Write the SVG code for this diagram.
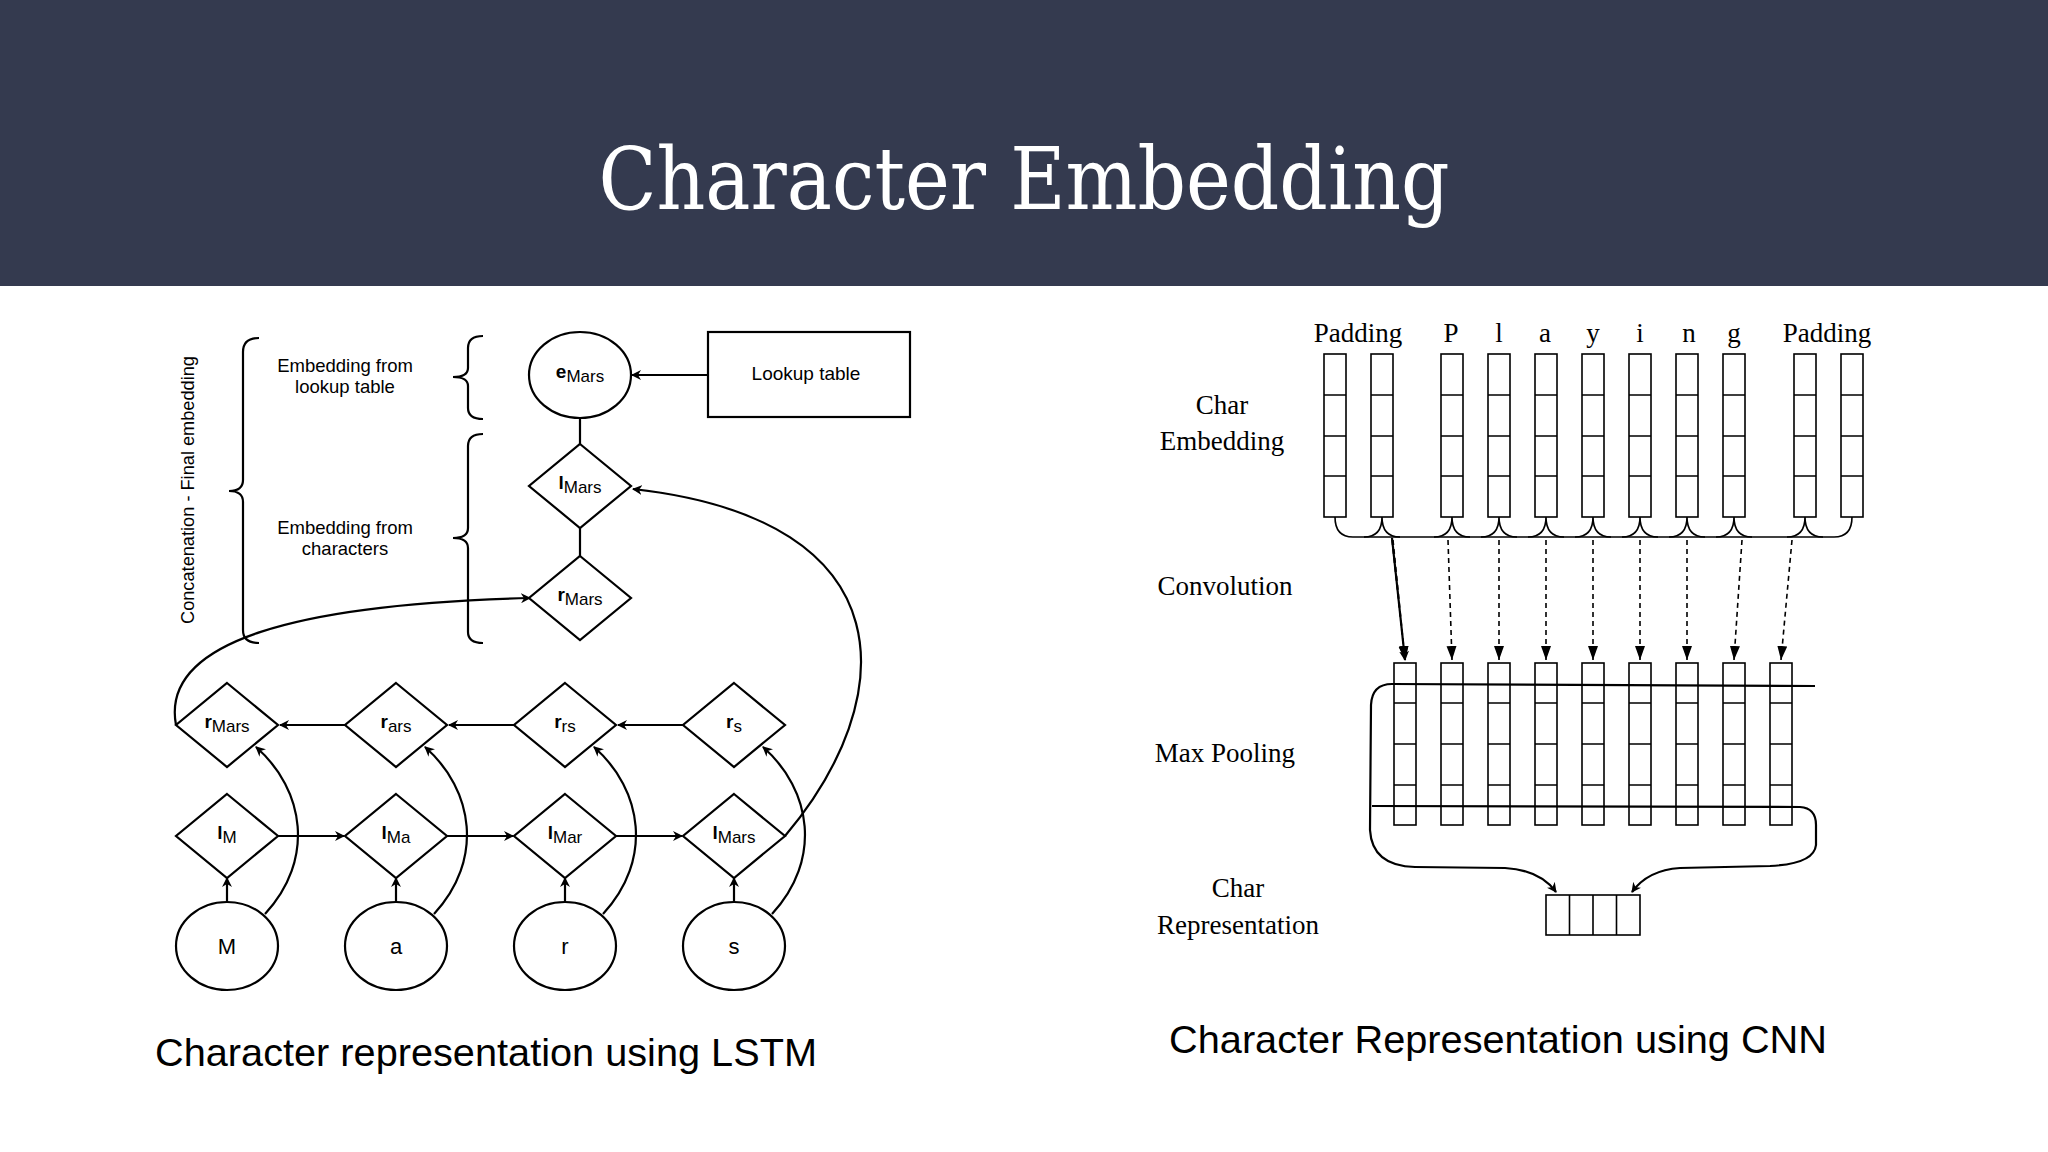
<svg xmlns="http://www.w3.org/2000/svg" width="2048" height="1152" viewBox="0 0 2048 1152">
<style>
.s{fill:none;stroke:#000;stroke-width:2.2}
.w{fill:#fff;stroke:#000;stroke-width:2.2}
.a{fill:none;stroke:#000;stroke-width:2.2;marker-end:url(#ah)}
.d{fill:none;stroke:#000;stroke-width:1.6;stroke-dasharray:5 4;marker-end:url(#ah2)}
.t{font-family:"Liberation Sans",Arial,sans-serif;fill:#000}
.n{font-family:"Liberation Sans",Arial,sans-serif;font-size:17px;text-anchor:middle}
.n .b{font-weight:bold;font-size:19px}
.r{font-family:"Liberation Serif","Times New Roman",serif;font-size:27px;fill:#000;text-anchor:middle}
.c{fill:none;stroke:#000;stroke-width:1.6}
</style>
<defs>
<marker id="ah" markerWidth="10" markerHeight="10" refX="9" refY="5" orient="auto" markerUnits="userSpaceOnUse" viewBox="0 0 10 10"><path d="M0,0 L10,5 L0,10 L3,5 z" fill="#000"/></marker>
<marker id="ah2" markerWidth="14" markerHeight="18" refX="14" refY="7" orient="auto" markerUnits="userSpaceOnUse" viewBox="0 0 14 14"><path d="M0,2 L14,7 L0,12 z" fill="#000"/></marker>
</defs>
<rect width="2048" height="1152" fill="#fff"/>
<rect width="2048" height="286" fill="#343a4f"/>
<text x="1024" y="209" font-family="'DejaVu Serif',serif" font-size="86" fill="#fff" text-anchor="middle" textLength="851" lengthAdjust="spacingAndGlyphs">Character Embedding</text>

<g id="connectors">
<path class="a" d="M708,375 L632,375"/>
<path class="s" d="M580,418 L580,444 M580,528 L580,556"/>
<path class="a" d="M683,725 L618,725"/>
<path class="a" d="M514,725 L449,725"/>
<path class="a" d="M345,725 L280,725"/>
<path class="a" d="M278,836 L344,836"/>
<path class="a" d="M447,836 L513,836"/>
<path class="a" d="M616,836 L682,836"/>
<path class="a" d="M227,902 L227,878"/>
<path class="a" d="M396,902 L396,878"/>
<path class="a" d="M565,902 L565,878"/>
<path class="a" d="M734,902 L734,878"/>
<path class="a" d="M265,914 C315,860 305,790 256,747"/>
<path class="a" d="M434,914 C484,860 474,790 425,747"/>
<path class="a" d="M603,914 C653,860 643,790 594,747"/>
<path class="a" d="M772,914 C822,860 812,790 763,747"/>
<path class="a" d="M785,836 C900,700 910,520 633,489"/>
<path class="a" d="M176,725 C160,640 300,604 530,598"/>
<path class="a" d="M1392,538 L1405,660"/>
<path class="d" d="M1392,540 L1405,660"/>
</g>

<g id="braces">
<path class="s" d="M259,338 Q243,338 243,352 L243,480 Q243,491 229,491 Q243,491 243,502 L243,630 Q243,643 259,643"/>
<path class="s" d="M483,336 Q468,336 468,348 L468,368 Q468,377 453,377 Q468,377 468,386 L468,408 Q468,419 483,419"/>
<path class="s" d="M483,434 Q468,434 468,446 L468,528 Q468,538 453,538 Q468,538 468,548 L468,632 Q468,643 483,643"/>
<text class="t" x="345" y="372" font-size="18.5" text-anchor="middle">Embedding from</text>
<text class="t" x="345" y="393" font-size="18.5" text-anchor="middle">lookup table</text>
<text class="t" x="345" y="534" font-size="18.5" text-anchor="middle">Embedding from</text>
<text class="t" x="345" y="555" font-size="18.5" text-anchor="middle">characters</text>
<text class="t" transform="translate(194,490) rotate(-90)" font-size="17.5" text-anchor="middle" textLength="268" lengthAdjust="spacingAndGlyphs">Concatenation - Final embedding</text>
</g>

<g id="lookup"><rect class="w" x="708" y="332" width="202" height="85"/><text class="t" x="806" y="380" font-size="19" text-anchor="middle">Lookup table</text></g>
<g id="eMars"><ellipse class="w" cx="580" cy="375" rx="51" ry="43"/><text class="n" x="580" y="378"><tspan class="b">e</tspan><tspan dy="4">Mars</tspan></text></g>
<g id="lMarsTop"><path class="w" d="M580,444 L631,486 L580,528 L529,486 z"/><text class="n" x="580" y="489"><tspan class="b">l</tspan><tspan dy="4">Mars</tspan></text></g>
<g id="rMarsTop"><path class="w" d="M580,556 L631,598 L580,640 L529,598 z"/><text class="n" x="580" y="601"><tspan class="b">r</tspan><tspan dy="4">Mars</tspan></text></g>

<g id="r1"><path class="w" d="M227,683 L278,725 L227,767 L176,725 z"/><text class="n" x="227" y="728"><tspan class="b">r</tspan><tspan dy="4">Mars</tspan></text></g>
<g id="r2"><path class="w" d="M396,683 L447,725 L396,767 L345,725 z"/><text class="n" x="396" y="728"><tspan class="b">r</tspan><tspan dy="4">ars</tspan></text></g>
<g id="r3"><path class="w" d="M565,683 L616,725 L565,767 L514,725 z"/><text class="n" x="565" y="728"><tspan class="b">r</tspan><tspan dy="4">rs</tspan></text></g>
<g id="r4"><path class="w" d="M734,683 L785,725 L734,767 L683,725 z"/><text class="n" x="734" y="728"><tspan class="b">r</tspan><tspan dy="4">s</tspan></text></g>
<g id="l1"><path class="w" d="M227,794 L278,836 L227,878 L176,836 z"/><text class="n" x="227" y="839"><tspan class="b">l</tspan><tspan dy="4">M</tspan></text></g>
<g id="l2"><path class="w" d="M396,794 L447,836 L396,878 L345,836 z"/><text class="n" x="396" y="839"><tspan class="b">l</tspan><tspan dy="4">Ma</tspan></text></g>
<g id="l3"><path class="w" d="M565,794 L616,836 L565,878 L514,836 z"/><text class="n" x="565" y="839"><tspan class="b">l</tspan><tspan dy="4">Mar</tspan></text></g>
<g id="l4"><path class="w" d="M734,794 L785,836 L734,878 L683,836 z"/><text class="n" x="734" y="839"><tspan class="b">l</tspan><tspan dy="4">Mars</tspan></text></g>
<g id="cM"><ellipse class="w" cx="227" cy="946" rx="51" ry="44"/><text class="t" x="227" y="954" font-size="22" text-anchor="middle">M</text></g>
<g id="ca"><ellipse class="w" cx="396" cy="946" rx="51" ry="44"/><text class="t" x="396" y="954" font-size="22" text-anchor="middle">a</text></g>
<g id="cr"><ellipse class="w" cx="565" cy="946" rx="51" ry="44"/><text class="t" x="565" y="954" font-size="22" text-anchor="middle">r</text></g>
<g id="cs"><ellipse class="w" cx="734" cy="946" rx="51" ry="44"/><text class="t" x="734" y="954" font-size="22" text-anchor="middle">s</text></g>
<text class="t" x="486" y="1066" font-size="39" text-anchor="middle" textLength="662" lengthAdjust="spacingAndGlyphs">Character representation using LSTM</text>

<!-- CNN -->
<g id="cnnLabels">
<text class="r" x="1358" y="342">Padding</text><text class="r" x="1451" y="342">P</text><text class="r" x="1499" y="342">l</text><text class="r" x="1545" y="342">a</text><text class="r" x="1593" y="342">y</text><text class="r" x="1640" y="342">i</text><text class="r" x="1689" y="342">n</text><text class="r" x="1734" y="342">g</text><text class="r" x="1827" y="342">Padding</text>
<text class="r" x="1222" y="414">Char</text><text class="r" x="1222" y="450">Embedding</text>
<text class="r" x="1225" y="595">Convolution</text>
<text class="r" x="1225" y="762">Max Pooling</text>
<text class="r" x="1238" y="897">Char</text><text class="r" x="1238" y="934">Representation</text>
</g>
<g id="embCols" fill="#fff" stroke="#000" stroke-width="1.6">
<g id="col1"><rect x="1324" y="354" width="22" height="163"/><path d="M1324,395 h22 M1324,436 h22 M1324,476 h22"/></g>
<g id="col2"><rect x="1371" y="354" width="22" height="163"/><path d="M1371,395 h22 M1371,436 h22 M1371,476 h22"/></g>
<g id="col3"><rect x="1441" y="354" width="22" height="163"/><path d="M1441,395 h22 M1441,436 h22 M1441,476 h22"/></g>
<g id="col4"><rect x="1488" y="354" width="22" height="163"/><path d="M1488,395 h22 M1488,436 h22 M1488,476 h22"/></g>
<g id="col5"><rect x="1535" y="354" width="22" height="163"/><path d="M1535,395 h22 M1535,436 h22 M1535,476 h22"/></g>
<g id="col6"><rect x="1582" y="354" width="22" height="163"/><path d="M1582,395 h22 M1582,436 h22 M1582,476 h22"/></g>
<g id="col7"><rect x="1629" y="354" width="22" height="163"/><path d="M1629,395 h22 M1629,436 h22 M1629,476 h22"/></g>
<g id="col8"><rect x="1676" y="354" width="22" height="163"/><path d="M1676,395 h22 M1676,436 h22 M1676,476 h22"/></g>
<g id="col9"><rect x="1723" y="354" width="22" height="163"/><path d="M1723,395 h22 M1723,436 h22 M1723,476 h22"/></g>
<g id="col10"><rect x="1794" y="354" width="22" height="163"/><path d="M1794,395 h22 M1794,436 h22 M1794,476 h22"/></g>
<g id="col11"><rect x="1841" y="354" width="22" height="163"/><path d="M1841,395 h22 M1841,436 h22 M1841,476 h22"/></g>
</g>
<g id="convCurves">
<path class="c" d="M1353,537 L1834,537"/>
<path class="c" d="M1335,517 Q1335,537 1353,537"/>
<path class="c" d="M1382,517 Q1382,537 1364,537 M1382,517 Q1382,537 1400,537"/>
<path class="c" d="M1452,517 Q1452,537 1434,537 M1452,517 Q1452,537 1470,537"/>
<path class="c" d="M1499,517 Q1499,537 1481,537 M1499,517 Q1499,537 1517,537"/>
<path class="c" d="M1546,517 Q1546,537 1528,537 M1546,517 Q1546,537 1564,537"/>
<path class="c" d="M1593,517 Q1593,537 1575,537 M1593,517 Q1593,537 1611,537"/>
<path class="c" d="M1640,517 Q1640,537 1622,537 M1640,517 Q1640,537 1658,537"/>
<path class="c" d="M1687,517 Q1687,537 1669,537 M1687,517 Q1687,537 1705,537"/>
<path class="c" d="M1734,517 Q1734,537 1716,537 M1734,517 Q1734,537 1752,537"/>
<path class="c" d="M1805,517 Q1805,537 1787,537 M1805,517 Q1805,537 1823,537"/>
<path class="c" d="M1852,517 Q1852,537 1834,537"/>
</g>
<g id="convArrows">
<path class="d" d="M1393,540 L1405,660"/>
<path class="d" d="M1448,540 L1452,660"/>
<path class="d" d="M1499,540 L1499,660"/>
<path class="d" d="M1546,540 L1546,660"/>
<path class="d" d="M1593,540 L1593,660"/>
<path class="d" d="M1640,540 L1640,660"/>
<path class="d" d="M1687,540 L1687,660"/>
<path class="d" d="M1742,540 L1734,660"/>
<path class="d" d="M1792,540 L1781,660"/>
</g>
<g id="poolCols" fill="#fff" stroke="#000" stroke-width="1.6">
<g><rect x="1394" y="663" width="22" height="162"/><path d="M1394,703 h22 M1394,744 h22 M1394,785 h22"/></g>
<g><rect x="1441" y="663" width="22" height="162"/><path d="M1441,703 h22 M1441,744 h22 M1441,785 h22"/></g>
<g><rect x="1488" y="663" width="22" height="162"/><path d="M1488,703 h22 M1488,744 h22 M1488,785 h22"/></g>
<g><rect x="1535" y="663" width="22" height="162"/><path d="M1535,703 h22 M1535,744 h22 M1535,785 h22"/></g>
<g><rect x="1582" y="663" width="22" height="162"/><path d="M1582,703 h22 M1582,744 h22 M1582,785 h22"/></g>
<g><rect x="1629" y="663" width="22" height="162"/><path d="M1629,703 h22 M1629,744 h22 M1629,785 h22"/></g>
<g><rect x="1676" y="663" width="22" height="162"/><path d="M1676,703 h22 M1676,744 h22 M1676,785 h22"/></g>
<g><rect x="1723" y="663" width="22" height="162"/><path d="M1723,703 h22 M1723,744 h22 M1723,785 h22"/></g>
<g><rect x="1770" y="663" width="22" height="162"/><path d="M1770,703 h22 M1770,744 h22 M1770,785 h22"/></g>
</g>
<g id="poolLines">
<path class="a" d="M1815,686 L1392,684 Q1372,684 1371,705 L1370,830 Q1372,866 1415,867 L1505,868 Q1540,870 1556,892"/>
<path class="a" d="M1372,806 L1800,807 Q1816,808 1816,825 L1816,845 Q1814,864 1770,866 L1680,868 Q1648,870 1632,892"/>
</g>
<g id="charRep" fill="#fff" stroke="#000" stroke-width="1.6"><rect x="1546" y="895" width="94" height="40"/><path d="M1569.5,895 v40 M1593,895 v40 M1616.5,895 v40"/></g>
<text class="t" x="1498" y="1053" font-size="39" text-anchor="middle" textLength="658" lengthAdjust="spacingAndGlyphs">Character Representation using CNN</text>
</svg>
